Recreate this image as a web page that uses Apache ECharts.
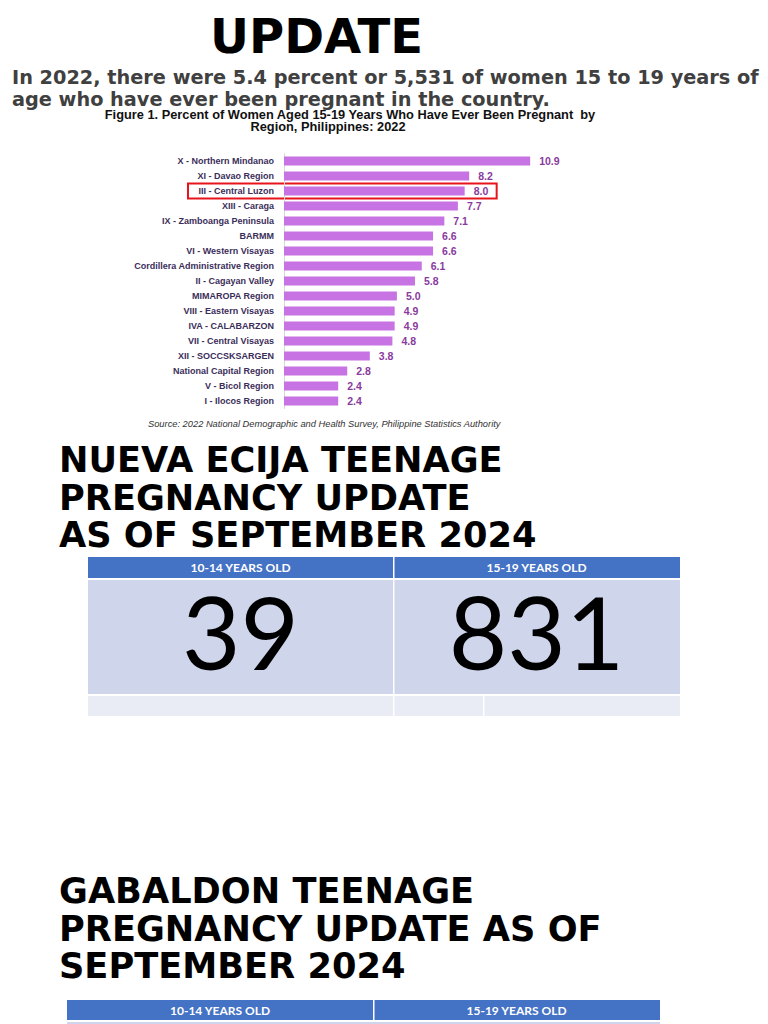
<!DOCTYPE html>
<html>
<head>
<meta charset="utf-8">
<script src="https://cdn.jsdelivr.net/npm/echarts@6/dist/echarts.min.js"></script>
<style>
html,body{margin:0;padding:0;background:#fff;}
#c{width:768px;height:1024px;}
</style>
</head>
<body>
<div id="c"></div>
<script>
// ---- data ----
const regions = [
  'X - Northern Mindanao','XI - Davao Region','III - Central Luzon','XIII - Caraga',
  'IX - Zamboanga Peninsula','BARMM','VI - Western Visayas','Cordillera Administrative Region',
  'II - Cagayan Valley','MIMAROPA Region','VIII - Eastern Visayas','IVA - CALABARZON',
  'VII - Central Visayas','XII - SOCCSKSARGEN','National Capital Region','V - Bicol Region','I - Ilocos Region'
];
const percentEverPregnant = [10.9, 8.2, 8.0, 7.7, 7.1, 6.6, 6.6, 6.1, 5.8, 5.0, 4.9, 4.9, 4.8, 3.8, 2.8, 2.4, 2.4];
const highlightedRegion = 'III - Central Luzon';
const ageGroups = ['10-14 YEARS OLD', '15-19 YEARS OLD'];
const nuevaEcijaCounts = [39, 831];

const pageTitle = 'UPDATE';
const introLines = ['In 2022, there were 5.4 percent or 5,531 of women 15 to 19 years of',
                    'age who have ever been pregnant in the country.'];
const figTitle1 = 'Figure 1. Percent of Women Aged 15-19 Years Who Have Ever Been Pregnant  by';
const figTitle2 = 'Region, Philippines: 2022';
const sourceText = 'Source: 2022 National Demographic and Health Survey, Philippine Statistics Authority';
const neTitle = ['NUEVA ECIJA TEENAGE', 'PREGNANCY UPDATE', 'AS OF SEPTEMBER 2024'];
const gabTitle = ['GABALDON TEENAGE', 'PREGNANCY UPDATE AS OF', 'SEPTEMBER 2024'];

const chart = echarts.init(document.getElementById('c'), null, {renderer: 'svg'});

// text placed by its baseline (approximate: middle of em box sits ~0.35em above baseline)
function txt(x, base, s, size, opt, family, weight, lh) {
  return {
    type: 'text', x: x, y: base - 0.35 * size,
    style: Object.assign({text: s, font: (weight || 'bold') + ' ' + size + 'px "' + (family || 'DejaVu Sans') + '"',
      fill: '#000', textVerticalAlign: 'middle', lineHeight: lh || size}, opt || {})
  };
}

const g = [];
g.push(txt(210, 53, pageTitle, 48));
g.push(txt(12, 84, introLines[0], 19.3, {fill: '#404040'}, null, null, 17));
g.push(txt(12, 106, introLines[1], 19.3, {fill: '#404040'}, null, null, 17));
g.push(txt(350, 119, figTitle1, 12.8, {fill: '#111', textAlign: 'center'}, 'Liberation Sans', null, 11));
g.push(txt(328, 131, figTitle2, 12.8, {fill: '#111', textAlign: 'center'}, 'Liberation Sans', null, 11));
g.push(txt(148, 427, sourceText, 9.3, {fill: '#333'}, 'Liberation Sans', 'italic'));

neTitle.forEach((s, i) => g.push(txt(59, 472 + i * 37.5, s, 35.2)));
gabTitle.forEach((s, i) => g.push(txt(59, 903 + i * 37.5, s, 35.2)));

function table(x0, x1, xm, yh, hh, bodyH, footH, counts, footSplit) {
  g.push({type:'rect', shape:{x:x0, y:yh, width:x1-x0, height:hh}, style:{fill:'#4472c4'}});
  g.push({type:'rect', shape:{x:xm, y:yh, width:1.5, height:hh}, style:{fill:'#fff'}});
  ageGroups.forEach((a, i) => {
    const cx = i === 0 ? (x0 + xm) / 2 : (xm + x1) / 2;
    g.push({type:'text', x:cx, y:yh + hh/2, style:{text:a, font:'bold 12px Lato', fill:'#fff', textAlign:'center', textVerticalAlign:'middle', lineHeight: 12}});
  });
  if (bodyH > 0) {
    const yb = yh + hh + 2;
    g.push({type:'rect', shape:{x:x0, y:yb, width:x1-x0, height:bodyH}, style:{fill:'#cfd5ea'}});
    g.push({type:'rect', shape:{x:xm, y:yb, width:1.5, height:bodyH}, style:{fill:'#fff'}});
    counts.forEach((v, i) => {
      const cx = i === 0 ? (x0 + xm) / 2 : (xm + x1) / 2;
      g.push(txt(cx, yb + 86, String(v), 101, {textAlign: 'center'}, 'Lato', 'normal', 80));
    });
    const yf = yb + bodyH + 2;
    g.push({type:'rect', shape:{x:x0, y:yf, width:x1-x0, height:footH}, style:{fill:'#e9ebf5'}});
    g.push({type:'rect', shape:{x:xm, y:yf, width:1.5, height:footH}, style:{fill:'#fff'}});
    g.push({type:'rect', shape:{x:footSplit, y:yf, width:1.5, height:footH}, style:{fill:'#fff'}});
  } else {
    g.push({type:'rect', shape:{x:x0, y:yh + hh + 2, width:x1-x0, height:10}, style:{fill:'#cfd5ea'}});
  }
}
table(88, 680, 393, 557, 21, 114, 20, nuevaEcijaCounts, 483);
table(67, 660, 373, 1000, 20, 0, 0, [], 0);

const option = {
  animation: false,
  backgroundColor: '#fff',
  grid: {left: 284, top: 153.5, width: 271, height: 255, containLabel: false},
  xAxis: {type: 'value', min: 0, max: 12, show: false},
  yAxis: {
    type: 'category', data: regions, inverse: true,
    axisLine: {show: true, lineStyle: {color: '#d8d8d8', width: 1}},
    axisTick: {show: false},
    axisLabel: {margin: 10, fontFamily: 'Liberation Sans', fontWeight: 'bold', fontSize: 9, color: '#3b2d5a'}
  },
  series: [{
    type: 'bar', data: percentEverPregnant, barWidth: 9,
    itemStyle: {color: '#c873e4'},
    label: {show: true, position: 'right', distance: 9, formatter: p => p.value.toFixed(1),
      fontFamily: 'Liberation Sans', fontWeight: 'bold', fontSize: 10.5, color: '#8a3a9e'}
  }],
  graphic: g
};
chart.setOption(option);

// red highlight box around the Central Luzon row
const hi = regions.indexOf(highlightedRegion);
const yC = chart.convertToPixel({yAxisIndex: 0}, highlightedRegion);
const xEnd = chart.convertToPixel({xAxisIndex: 0}, percentEverPregnant[hi]);
const x0 = chart.convertToPixel({xAxisIndex: 0}, 0);
g.push({type:'rect', shape:{x: x0 - 96, y: yC - 7.5, width: (xEnd + 32) - (x0 - 96), height: 15},
  style:{fill:'none', stroke:'#e8141b', lineWidth: 2}});
chart.setOption({graphic: g});
</script>
</body>
</html>
